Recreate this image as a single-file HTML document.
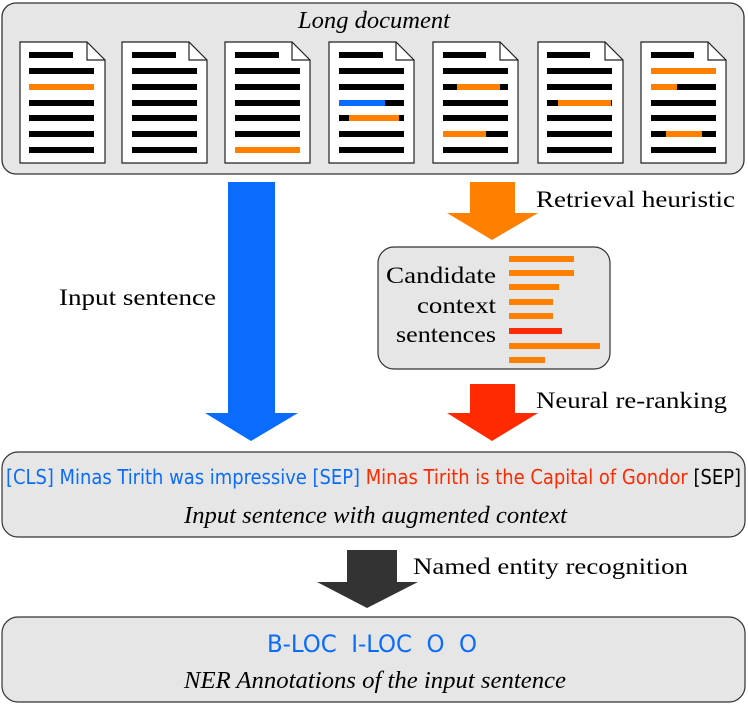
<!DOCTYPE html>
<html><head><meta charset="utf-8"><style>
html,body{margin:0;padding:0;background:#fff}
svg{display:block}
.serif{font-family:"Liberation Serif",serif}
.sans{font-family:"DejaVu Sans Condensed","DejaVu Sans","Liberation Sans",sans-serif}
</style></head><body>
<svg width="748" height="704" viewBox="0 0 748 704" xmlns="http://www.w3.org/2000/svg">
<defs>
<g id="doc">
<path d="M0,0 H67 L85,18 V121 H0 Z" fill="#fff" stroke="#222" stroke-width="1.2"/>
<path d="M67,0 V18 H85" fill="none" stroke="#222" stroke-width="1.2"/>
</g>
</defs>
<rect x="2" y="3" width="742" height="171" rx="14" fill="#e6e6e6" stroke="#333" stroke-width="1.3"/>
<text x="298" y="28" class="serif" font-style="italic" font-size="24" textLength="152" lengthAdjust="spacingAndGlyphs">Long document</text>

<g transform="translate(20,42)"><use href="#doc"/>
<g fill="#000"><rect x="9" y="10" width="44" height="6"/><rect x="9" y="26" width="65" height="6"/><rect x="9" y="58" width="65" height="6"/><rect x="9" y="73" width="65" height="6"/><rect x="9" y="89" width="65" height="6"/><rect x="9" y="105" width="65" height="6"/></g>
<rect x="9" y="42" width="65" height="6" fill="#ff8000"/></g>
<g transform="translate(122,42)"><use href="#doc"/>
<g fill="#000"><rect x="10" y="10" width="44" height="6"/><rect x="10" y="26" width="65" height="6"/><rect x="10" y="42" width="65" height="6"/><rect x="10" y="58" width="65" height="6"/><rect x="10" y="73" width="65" height="6"/><rect x="10" y="89" width="65" height="6"/><rect x="10" y="105" width="65" height="6"/></g></g>
<g transform="translate(225,42)"><use href="#doc"/>
<g fill="#000"><rect x="10" y="10" width="44" height="6"/><rect x="10" y="26" width="65" height="6"/><rect x="10" y="42" width="65" height="6"/><rect x="10" y="58" width="65" height="6"/><rect x="10" y="73" width="65" height="6"/><rect x="10" y="89" width="65" height="6"/></g>
<rect x="10" y="105" width="65" height="6" fill="#ff8000"/></g>
<g transform="translate(329,42)"><use href="#doc"/>
<g fill="#000"><rect x="10" y="10" width="44" height="6"/><rect x="10" y="26" width="65" height="6"/><rect x="10" y="42" width="65" height="6"/><rect x="10" y="58" width="65" height="6"/><rect x="10" y="73" width="65" height="6"/><rect x="10" y="89" width="65" height="6"/><rect x="10" y="105" width="65" height="6"/></g>
<rect x="10" y="58" width="46" height="6" fill="#0a6cff"/><rect x="20" y="73" width="50" height="6" fill="#ff8000"/></g>
<g transform="translate(433,42)"><use href="#doc"/>
<g fill="#000"><rect x="10" y="10" width="43" height="6"/><rect x="10" y="26" width="65" height="6"/><rect x="10" y="42" width="65" height="6"/><rect x="10" y="58" width="65" height="6"/><rect x="10" y="73" width="65" height="6"/><rect x="10" y="89" width="65" height="6"/><rect x="10" y="105" width="65" height="6"/></g>
<rect x="24" y="42" width="43" height="6" fill="#ff8000"/><rect x="10" y="89" width="43" height="6" fill="#ff8000"/></g>
<g transform="translate(538,42)"><use href="#doc"/>
<g fill="#000"><rect x="9" y="10" width="43" height="6"/><rect x="9" y="26" width="65" height="6"/><rect x="9" y="42" width="65" height="6"/><rect x="9" y="58" width="65" height="6"/><rect x="9" y="73" width="65" height="6"/><rect x="9" y="89" width="65" height="6"/><rect x="9" y="105" width="65" height="6"/></g>
<rect x="20" y="58" width="53" height="6" fill="#ff8000"/></g>
<g transform="translate(641,42)"><use href="#doc"/>
<g fill="#000"><rect x="10" y="10" width="43" height="6"/><rect x="10" y="42" width="65" height="6"/><rect x="10" y="58" width="65" height="6"/><rect x="10" y="73" width="65" height="6"/><rect x="10" y="89" width="65" height="6"/><rect x="10" y="105" width="65" height="6"/></g>
<rect x="10" y="26" width="65" height="6" fill="#ff8000"/><rect x="10" y="42" width="26" height="6" fill="#ff8000"/><rect x="25" y="89" width="36" height="6" fill="#ff8000"/></g>

<polygon points="228,182 275,182 275,413 298,413 251,441 205,413 228,413" fill="#0a6cff"/>
<text x="59" y="305" class="serif" font-size="23" textLength="157" lengthAdjust="spacingAndGlyphs">Input sentence</text>

<polygon points="470,182 515,182 515,213 538,213 492,240 447,213 470,213" fill="#ff8000"/>
<text x="536" y="207" class="serif" font-size="23" textLength="199" lengthAdjust="spacingAndGlyphs">Retrieval heuristic</text>

<rect x="378" y="247" width="232" height="122" rx="16" fill="#e6e6e6" stroke="#333" stroke-width="1.2"/>
<g class="serif" font-size="23" text-anchor="end"><text x="496" y="283" textLength="110" lengthAdjust="spacingAndGlyphs">Candidate</text><text x="496" y="313" textLength="79" lengthAdjust="spacingAndGlyphs">context</text><text x="496" y="342" textLength="100" lengthAdjust="spacingAndGlyphs">sentences</text></g>
<g fill="#ff8000"><rect x="509" y="256" width="65" height="6"/><rect x="509" y="270" width="65" height="6"/><rect x="509" y="284" width="50" height="6"/><rect x="509" y="299" width="44" height="6"/><rect x="509" y="313" width="44" height="6"/><rect x="509" y="343" width="91" height="6"/><rect x="509" y="357" width="36" height="6"/></g>
<rect x="509" y="328" width="53" height="6" fill="#ff2a00"/>

<polygon points="470,384 515,384 515,413 538,413 492,441 447,413 470,413" fill="#ff2a00"/>
<text x="536" y="408" class="serif" font-size="23" textLength="191" lengthAdjust="spacingAndGlyphs">Neural re-ranking</text>

<rect x="2" y="452" width="743" height="85" rx="16" fill="#e6e6e6" stroke="#333" stroke-width="1.2"/>
<text x="6" y="484" class="sans" font-size="20" textLength="735" lengthAdjust="spacingAndGlyphs"><tspan fill="#0a6cff">[CLS] Minas Tirith was impressive [SEP] </tspan><tspan fill="#ff2a00">Minas Tirith is the Capital of Gondor </tspan><tspan fill="#000">[SEP]</tspan></text>
<text x="184" y="523" class="serif" font-style="italic" font-size="24" textLength="383" lengthAdjust="spacingAndGlyphs">Input sentence with augmented context</text>

<polygon points="347,550 397,550 397,582 418,582 367,608 317,582 347,582" fill="#333"/>
<text x="413" y="574" class="serif" font-size="23" textLength="275" lengthAdjust="spacingAndGlyphs">Named entity recognition</text>

<rect x="2" y="617" width="743" height="85" rx="16" fill="#e6e6e6" stroke="#333" stroke-width="1.2"/>
<text x="267" y="652" class="sans" font-size="24" fill="#0a6cff" textLength="210" lengthAdjust="spacingAndGlyphs" xml:space="preserve">B-LOC  I-LOC  O  O</text>
<text x="184" y="688" class="serif" font-style="italic" font-size="24" textLength="382" lengthAdjust="spacingAndGlyphs">NER Annotations of the input sentence</text>
</svg>
</body></html>
